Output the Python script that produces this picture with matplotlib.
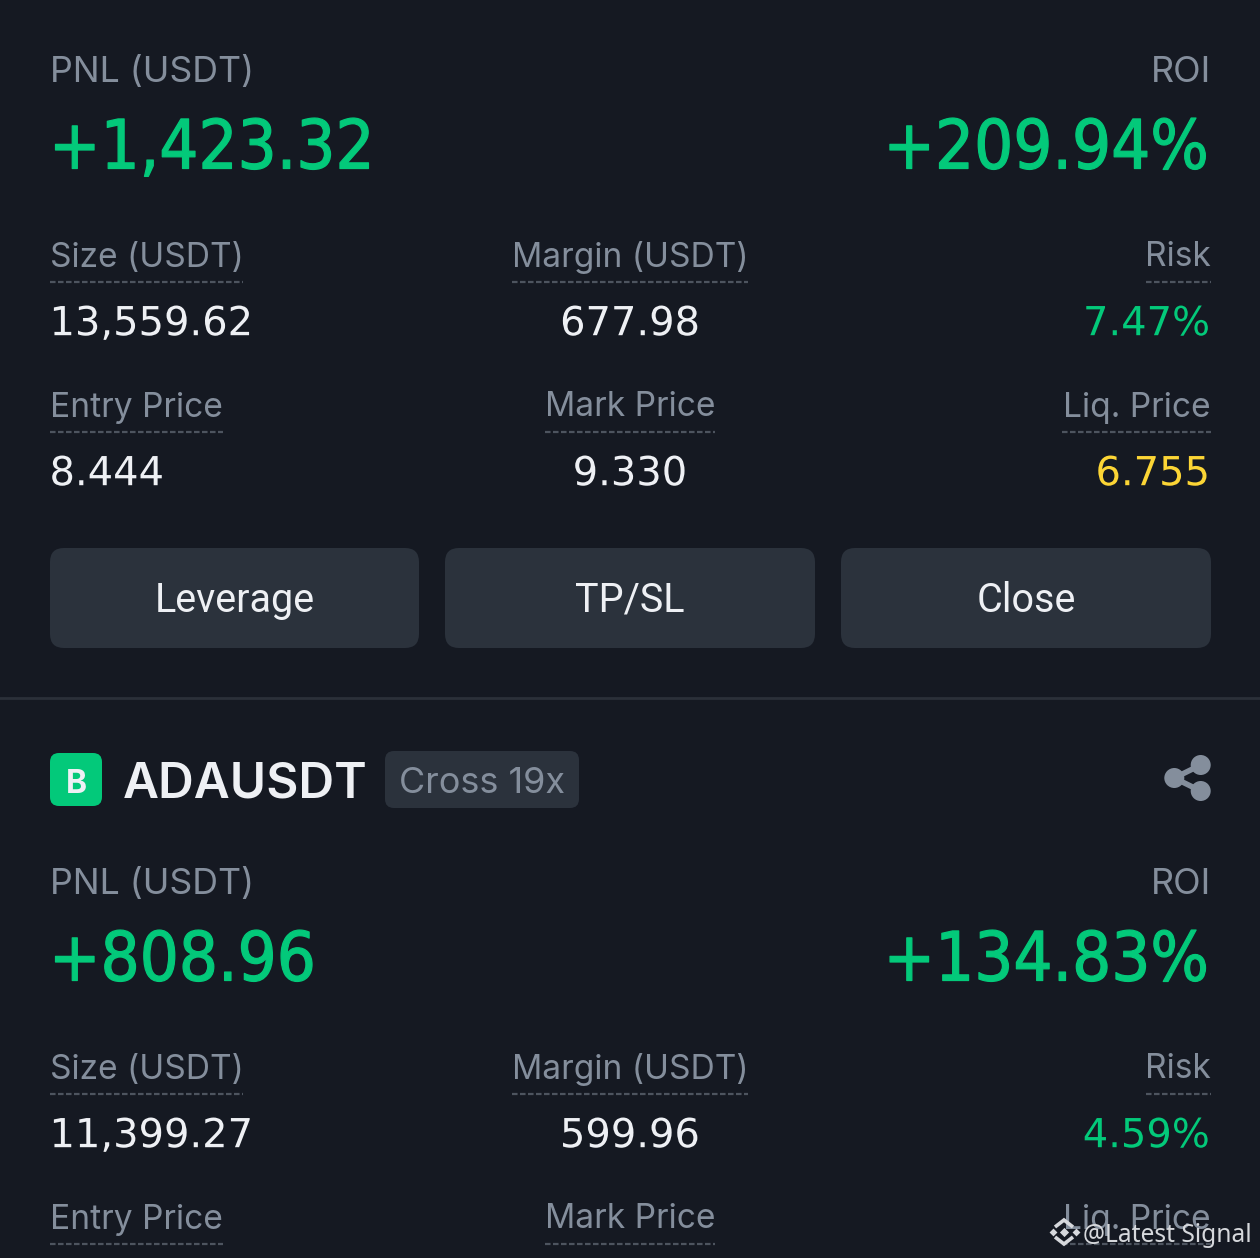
import matplotlib
matplotlib.use("Agg")
import matplotlib.pyplot as plt
from matplotlib.patches import FancyBboxPatch, Circle
from matplotlib.patheffects import AbstractPathEffect
from matplotlib.transforms import Affine2D

BG = "#151922"; PANEL = "#2b323c"; GREY = "#848e9c"; WHITE = "#eef0f4"
GREEN = "#03c97a"; YELLOW = "#fcd535"; RULE = "#2b3039"

pnl_values = ["+1,423.32", "+808.96"]
roi_values = ["+209.94%", "+134.83%"]
col_labels_1 = ["Size (USDT)", "Margin (USDT)", "Risk"]
col_labels_2 = ["Entry Price", "Mark Price", "Liq. Price"]
values_1a = ["13,559.62", "677.98", "7.47%"]
values_2a = ["8.444", "9.330", "6.755"]
values_1b = ["11,399.27", "599.96", "4.59%"]
buttons = ["Leverage", "TP/SL", "Close"]
symbol = "ADAUSDT"; badge = "Cross 19x"; watermark = "@Latest Signal"

W, H = 1260, 1258
fig = plt.figure(figsize=(W/100, H/100), dpi=100, facecolor=BG)
ax = fig.add_axes([0, 0, 1, 1]); ax.set_xlim(0, W); ax.set_ylim(H, 0); ax.axis("off")
PX = 0.72


class XScale(AbstractPathEffect):
    """Squeeze a text horizontally about its anchor, and optionally thicken it."""
    def __init__(self, anchor, sx, bold=0.0):
        super().__init__()
        self.anchor, self.sx, self.bold = anchor, sx, bold

    def draw_path(self, renderer, gc, tpath, affine, rgbFace=None):
        a = affine + Affine2D().translate(-self.anchor, 0).scale(self.sx, 1).translate(self.anchor, 0)
        gc0 = renderer.new_gc(); gc0.copy_properties(gc)
        gc0.set_foreground(rgbFace); gc0.set_linewidth(self.bold)
        renderer.draw_path(gc0, tpath, a, rgbFace)
        gc0.restore()


def T(x, y, s, size, color, ha="left", weight="normal", family="Inter", sx=None, bold=0.0, **kw):
    t = ax.text(x, y, s, fontsize=size*PX, color=color, ha=ha, va="center_baseline",
                fontweight=weight, family=family, **kw)
    if sx is not None:
        t.set_path_effects([XScale(x, sx, bold)])
    return t


def box(x0, y0, x1, y1, r, color, z=1):
    ax.add_patch(FancyBboxPatch((x0+r, y0+r), x1-x0-2*r, y1-y0-2*r,
                 boxstyle=f"round,pad={r},rounding_size={r}", fc=color, ec="none", zorder=z))


def dashed(x0, x1, y):
    ax.plot([x0, x1], [y, y], color="#4d545f", lw=1.6, dashes=(2.5, 1.1), zorder=2)


col_x = [(50, "left"), (630, "center"), (1211, "right")]
val_x = [49.5, 630, 1210]
spans = [[(50, 243), (512, 748), (1146, 1211)], [(50, 223), (545, 715), (1062, 1211)]]


def header(y, pnl, roi):
    T(49.5, y, "PNL (USDT)", 35.7, GREY)
    T(1211, y, "ROI", 36, GREY, ha="right")
    T(49, y+73.5, pnl, 68, GREEN, family="DejaVu Sans", sx=0.905, bold=0.9)
    T(1209, y+73.5, roi, 68, GREEN, ha="right", family="DejaVu Sans", sx=0.905, bold=0.9)


def row(y, labels, values, colors, span):
    for (x, ha), l, sp in zip(col_x, labels, span):
        T(x, y, l, 33.5, GREY, ha=ha)
        dashed(sp[0], sp[1], y+28.3)
    if values:
        for x, (_, ha), v, c in zip(val_x, col_x, values, colors):
            T(x, y+65.7, v, 40, c, ha=ha, family="DejaVu Sans", sx=1.0)


header(69, pnl_values[0], roi_values[0])
row(254, col_labels_1, values_1a, [WHITE, WHITE, GREEN], spans[0])
row(404, col_labels_2, values_2a, [WHITE, WHITE, YELLOW], spans[1])

for (x0, x1), b in zip([(50, 419), (445, 815), (841, 1211)], buttons):
    box(x0, 548, x1, 648, 14, PANEL)
    T((x0+x1)/2, 596.5, b, 39.5, WHITE, ha="center", family="Roboto")
ax.plot([0, W], [698, 698], color=RULE, lw=2)

box(50, 753, 102, 806, 9, GREEN)
T(76, 781, "B", 32, WHITE, ha="center", weight="bold")
T(122.5, 780, symbol, 49.5, WHITE, weight="semibold")
box(385, 751, 579, 808, 9, PANEL)
T(399, 780, badge, 36, GREY)

for (cx, cy, r) in [(1200.7, 765, 10), (1200.7, 791, 10), (1174.3, 778, 10)]:
    ax.add_patch(Circle((cx, cy), r, fc=GREY, ec="none"))
ax.plot([1200.7, 1174.3, 1200.7], [765, 778, 791], color=GREY, lw=4)

header(881, pnl_values[1], roi_values[1])
row(1066, col_labels_1, values_1b, [WHITE, WHITE, GREEN], spans[0])
row(1216, col_labels_2, None, None, spans[1])

# watermark
WM = "#d6d8dc"
T(1083, 1232, watermark, 24.6, WM, family="Noto Sans", zorder=5)
mx, my = 1064, 1232
for sgn in (-1, 1):
    ax.plot([mx-9, mx, mx+9], [my+sgn*5, my+sgn*12, my+sgn*5], color=WM, lw=2.6, zorder=5,
            solid_capstyle="butt", solid_joinstyle="miter")
    ax.scatter([mx+sgn*11.5], [my], marker="D", s=16, color=WM, zorder=5, linewidths=0)
ax.scatter([mx], [my], marker="D", s=22, color=WM, zorder=5, linewidths=0)
fig.savefig("out.png", dpi=100, facecolor=BG)
